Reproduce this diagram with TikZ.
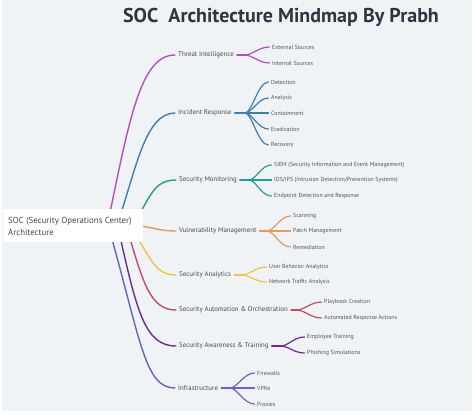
\documentclass[tikz,border=0pt]{standalone}
\usepackage{fontspec}
\setmainfont{PT Sans}
\usetikzlibrary{calc}
\pgfdeclarelayer{back}
\pgfdeclarelayer{bg}
\pgfsetlayers{back,bg,main}
\definecolor{panel}{HTML}{F0F3F6}
\definecolor{titlec}{HTML}{2E3540}
\definecolor{txtone}{HTML}{434951}
\definecolor{txttwo}{HTML}{4E545C}
\definecolor{cthreat}{HTML}{B14FC5}
\definecolor{cinc}{HTML}{3F7EAF}
\definecolor{cmon}{HTML}{23A08C}
\definecolor{cvul}{HTML}{E39A5E}
\definecolor{cana}{HTML}{EAC54C}
\definecolor{cauto}{HTML}{B8505E}
\definecolor{caware}{HTML}{6B2D8F}
\definecolor{cinfra}{HTML}{6B63C4}
\tikzset{
  lone/.style={anchor=west, inner sep=0pt, font=\fontsize{6.85}{8}\selectfont, text=txtone},
  leaf/.style={anchor=west, inner sep=0pt, font=\fontsize{5.9}{7}\selectfont, text=txttwo},
  link/.style={line width=1.4pt, line cap=round},
  fanlink/.style={line width=1.2pt, line cap=round},
}
\begin{document}
\begin{tikzpicture}[x=1pt,y=-1pt]
\useasboundingbox (0,0) rectangle (474,415);
\begin{pgfonlayer}{back}
\fill[white] (0,0) rectangle (474,415);
\fill[panel] (2,0) rectangle (472,411);
\end{pgfonlayer}
% title
\node[font=\fontsize{20}{22}\selectfont\bfseries, text=titlec, inner sep=0pt] (title) at (281,17) {SOC\ \ Architecture Mindmap By Prabh};
% root
\node[fill=white, anchor=north west, minimum width=140pt, minimum height=33pt, inner sep=0pt] (root) at (3,208.5) {};
\node[anchor=west, inner sep=0pt, align=left, font=\fontsize{8.8}{12}\selectfont, text=txtone] (roottxt) at (8,226.3) {SOC (Security Operations Center)\\Architecture};
% start points hidden behind root
\coordinate (o1) at (108,222);
\coordinate (o2) at (118,222);
\coordinate (o3) at (134,222);
\coordinate (o4) at (130,226);
\coordinate (o5) at (132,232);
\coordinate (o6) at (128,232);
\coordinate (o7) at (119,232);
\coordinate (o8) at (110,232);
% level one
\node[lone] (ti) at (178,55) {Threat Intelligence};
\node[lone] (ir) at (178,113) {Incident Response};
\node[lone] (sm) at (179,180) {Security Monitoring};
\node[lone] (vm) at (179,231) {Vulnerability Management};
\node[lone] (sa) at (179,275) {Security Analytics};
\node[lone] (so) at (179,310) {Security Automation \& Orchestration};
\node[lone] (st) at (179,346) {Security Awareness \& Training};
\node[lone] (in) at (178,388) {Infrastructure};
% junctions
\coordinate (jti) at (245,55);
\coordinate (jir) at (245,113);
\coordinate (jsm) at (249,180);
\coordinate (jvm) at (267,231);
\coordinate (jsa) at (242,275);
\coordinate (jso) at (297,310);
\coordinate (jst) at (281,346);
\coordinate (jin) at (230,388);
% leaves
\node[leaf] (ti1) at (272,47) {External Sources};
\node[leaf] (ti2) at (272,63) {Internal Sources};
\node[leaf] (ir1) at (271,82) {Detection};
\node[leaf] (ir2) at (271,98) {Analysis};
\node[leaf] (ir3) at (271,113) {Containment};
\node[leaf] (ir4) at (271,129) {Eradication};
\node[leaf] (ir5) at (271,145) {Recovery};
\node[leaf] (sm1) at (274,165) {SIEM (Security Information and Event Management)};
\node[leaf] (sm2) at (274,180) {IDS/IPS (Intrusion Detection/Prevention Systems)};
\node[leaf] (sm3) at (274,196) {Endpoint Detection and Response};
\node[leaf] (vm1) at (293,216) {Scanning};
\node[leaf] (vm2) at (293,231) {Patch Management};
\node[leaf] (vm3) at (293,247) {Remediation};
\node[leaf] (sa1) at (269,267) {User Behavior Analytics};
\node[leaf] (sa2) at (269,282) {Network Traffic Analysis};
\node[leaf] (so1) at (324,302) {Playbook Creation};
\node[leaf] (so2) at (324,318) {Automated Response Actions};
\node[leaf] (st1) at (307,337) {Employee Training};
\node[leaf] (st2) at (307,353) {Phishing Simulations};
\node[leaf] (in1) at (257,373) {Firewalls};
\node[leaf] (in2) at (257,388) {VPNs};
\node[leaf] (in3) at (257,404) {Proxies};
% root connectors
\begin{pgfonlayer}{bg}
\draw[link,cthreat] (o1) .. controls (129,122) and (140,55) .. ([xshift=-3pt]ti.west);
\draw[link,cinc] (o2) .. controls (136,170) and (145,113) .. ([xshift=-3pt]ir.west);
\draw[link,cmon] (o3) .. controls (150,200) and (152,180) .. ([xshift=-3pt]sm.west);
\draw[link,cvul] (o4) .. controls (150,225) and (155,231) .. ([xshift=-3pt]vm.west);
\draw[link,cana] (o5) .. controls (150,252) and (152,275) .. ([xshift=-3pt]sa.west);
\draw[link,cauto] (o6) .. controls (143,282) and (150,310) .. ([xshift=-3pt]so.west);
\draw[link,caware] (o7) .. controls (137,312) and (145,346) .. ([xshift=-3pt]st.west);
\draw[link,cinfra] (o8) .. controls (141,342) and (145,388) .. ([xshift=-3pt]in.west);
\end{pgfonlayer}
% stems and fans
\foreach \p/\c/\kids in {ti/cthreat/{ti1,ti2}, ir/cinc/{ir1,ir2,ir3,ir4,ir5}, sm/cmon/{sm1,sm2,sm3}, vm/cvul/{vm1,vm2,vm3}, sa/cana/{sa1,sa2}, so/cauto/{so1,so2}, st/caware/{st1,st2}, in/cinfra/{in1,in2,in3}}{
  \draw[link,\c] ([xshift=3pt]\p.east) -- (j\p);
  \foreach \k in \kids {
    \draw[fanlink,\c] (j\p) .. controls ($(j\p)+(7,0)$) and ($(\k.west)+(-13,0)$) .. ([xshift=-2.5pt]\k.west);
  }
}
\end{tikzpicture}
\end{document}
